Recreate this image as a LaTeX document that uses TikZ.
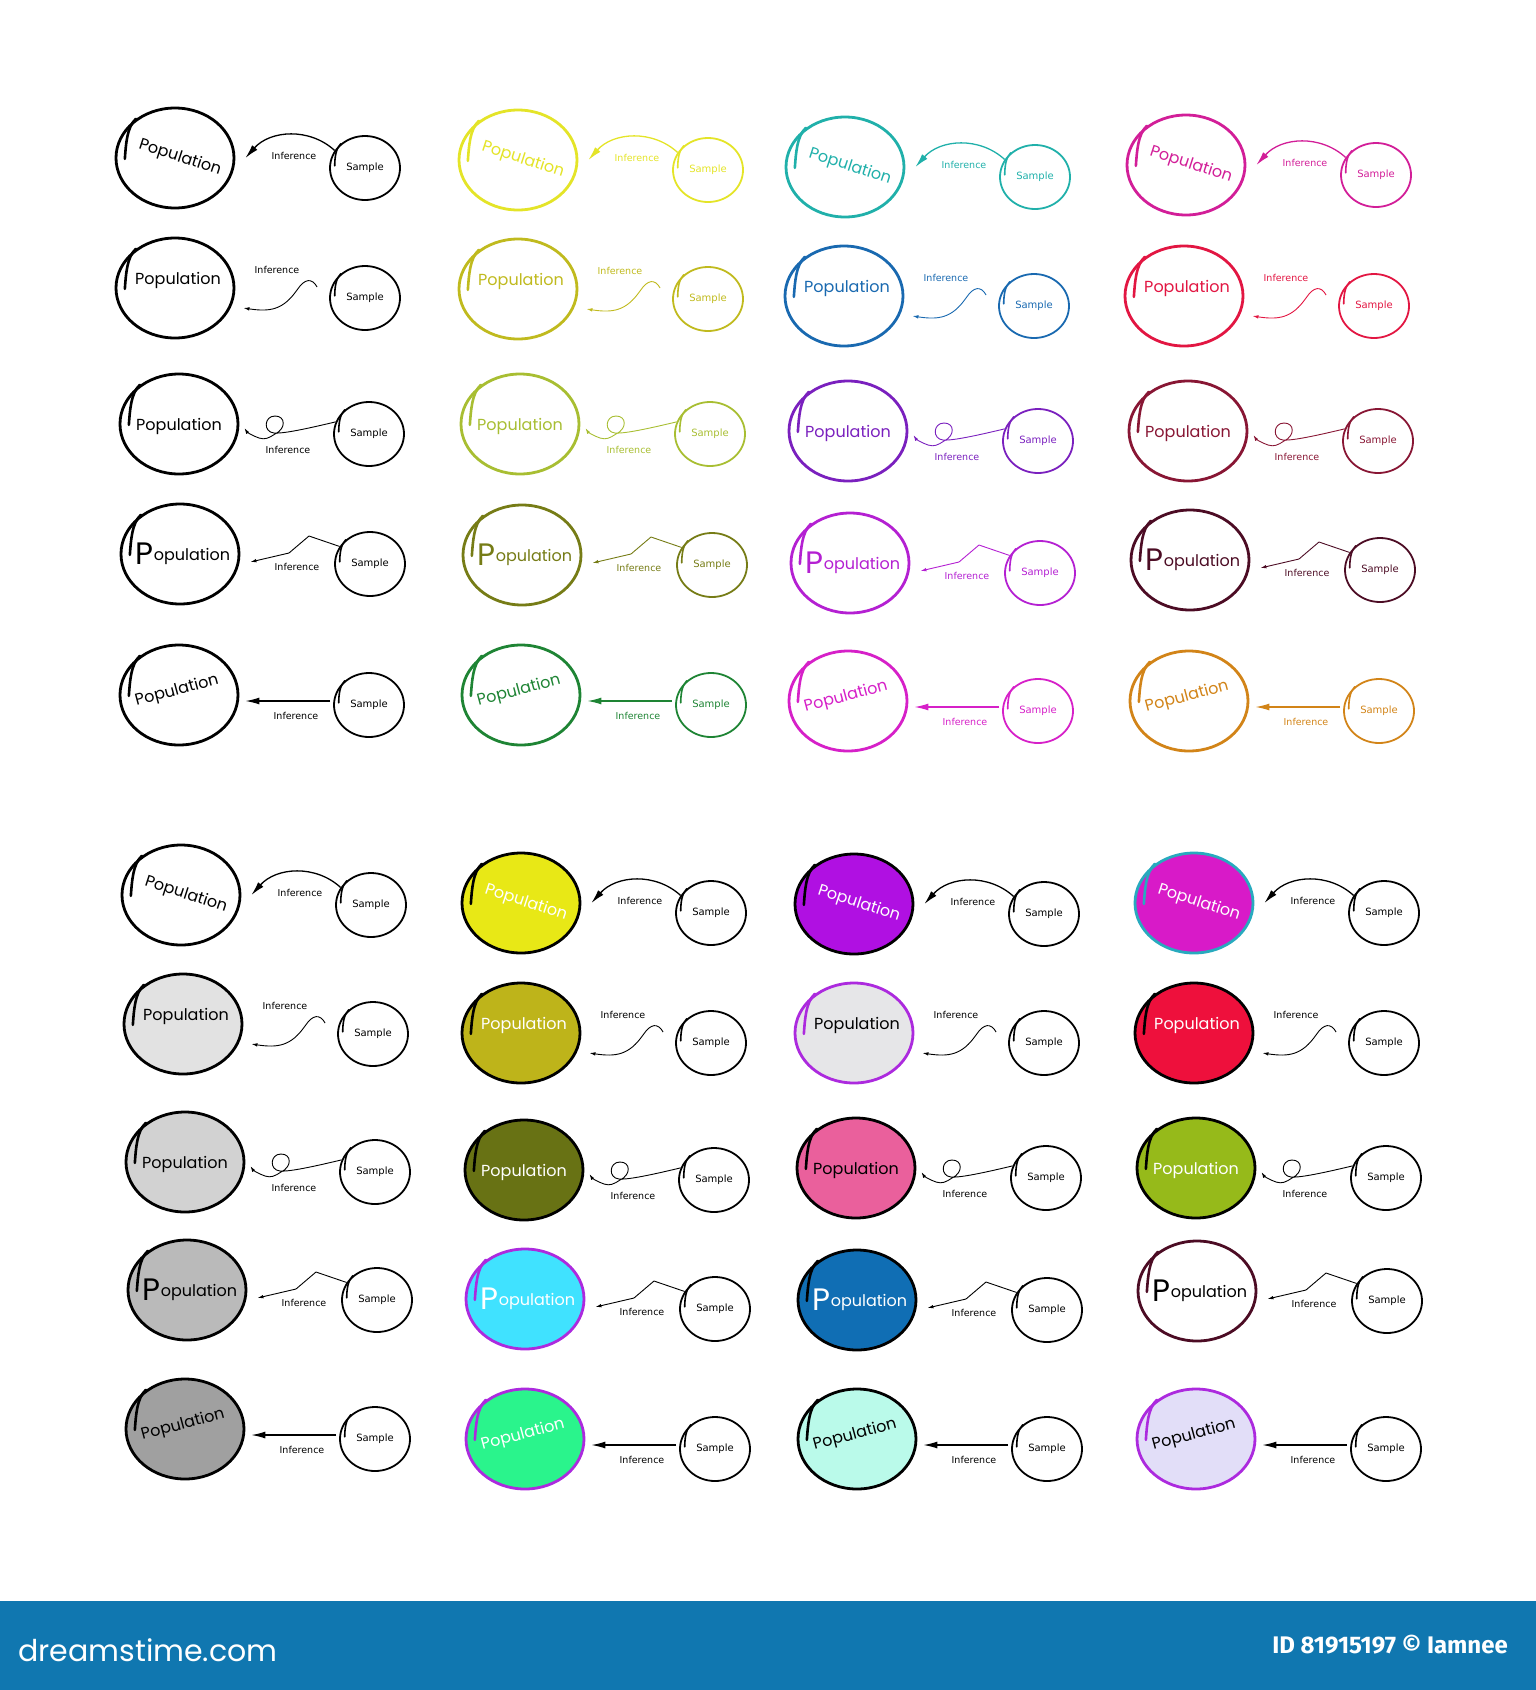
\documentclass[tikz,border=0pt]{standalone}
\usepackage{fontspec}
\setmainfont{DejaVu Sans}
\newfontfamily\popfont{Poppins}
\newfontfamily\creditfont{Fira Sans}
\usetikzlibrary{shapes.geometric,arrows.meta}

% outline colours, upper block
\definecolor{lemonA}{RGB}{228,228,40}
\definecolor{lemonB}{RGB}{192,186,30}
\definecolor{lemonC}{RGB}{168,190,50}
\definecolor{lemonD}{RGB}{118,124,22}
\definecolor{lemonE}{RGB}{30,132,52}
\definecolor{seaA}{RGB}{32,176,170}
\definecolor{seaB}{RGB}{25,105,176}
\definecolor{seaC}{RGB}{122,32,190}
\definecolor{seaD}{RGB}{180,32,210}
\definecolor{seaE}{RGB}{214,32,200}
\definecolor{wineA}{RGB}{210,30,152}
\definecolor{wineB}{RGB}{226,22,66}
\definecolor{wineC}{RGB}{136,22,52}
\definecolor{wineD}{RGB}{76,12,36}
\definecolor{wineE}{RGB}{210,132,24}
% fills, lower block
\definecolor{greyA}{RGB}{226,226,226}
\definecolor{greyB}{RGB}{210,210,210}
\definecolor{greyC}{RGB}{186,186,186}
\definecolor{greyD}{RGB}{160,160,160}
\definecolor{fillYellow}{RGB}{232,232,22}
\definecolor{fillOlive}{RGB}{190,180,26}
\definecolor{fillMoss}{RGB}{104,114,20}
\definecolor{fillCyan}{RGB}{64,226,255}
\definecolor{fillMint}{RGB}{42,244,140}
\definecolor{fillViolet}{RGB}{176,16,226}
\definecolor{fillPale}{RGB}{230,230,232}
\definecolor{fillPink}{RGB}{234,96,156}
\definecolor{fillBlue}{RGB}{16,110,180}
\definecolor{fillAqua}{RGB}{186,250,234}
\definecolor{fillMagenta}{RGB}{216,26,200}
\definecolor{fillRed}{RGB}{238,16,60}
\definecolor{fillLime}{RGB}{150,186,26}
\definecolor{fillLavender}{RGB}{226,222,248}
\definecolor{ringPurple}{RGB}{172,42,222}
\definecolor{ringTeal}{RGB}{40,170,190}
\definecolor{bannerblue}{RGB}{16,119,176}

\newcommand{\bigP}{\raisebox{-4pt}{\fontsize{31}{31}\selectfont P}opulation}

% one population / sample pair
% #1 name, #2 x, #3 y, #4 kind of arrow, #5 ring, #6 fill, #7 word, #8 sample side
\newcommand{\samplepair}[8]{%
  \begin{scope}[shift={(#2,#3)}]
    \node[popring, draw=#5, fill=#6] (p#1) at (0,0) {};
    \draw[sketchpop, #5] (p#1.135) .. controls +(-9,8) and +(1,-14) .. ++(-11,40);
    \node[samplering, draw=#8, text=#8] (s#1) at (190,10) {Sample};
    \draw[sketchsample, #8] (s#1.135) .. controls +(-5,5) and +(0,-8) .. ++(-6,22);
    \ifcase#4\or
      % arc
      \node[poptext, text=#7, rotate=-18] (t#1) at (5,0) {Population};
      \draw[arcline, bigtip, #8] (s#1.150) .. controls +(-25,-23) and +(25,-28) .. ([shift={(10,0)}]p#1.east);
      \node[inflabel, text=#8] (i#1) at (119,-2) {Inference};
    \or
      % wave
      \node[poptext, text=#7] (t#1) at (3,-8) {Population};
      \draw[thinline, smalltip, #8] ([shift={(-12,-11)}]s#1.west) .. controls +(-5,-9) and +(8,-12) .. (122,2)
        .. controls (108,22) and (95,24) .. ([shift={(8,20)}]p#1.east);
      \node[inflabel, text=#8] (i#1) at (102,-18) {Inference};
    \or
      % loop
      \node[poptext, text=#7] (t#1) at (0,2) {Population};
      \draw[thinline, smalltip, #8] (s#1.160) .. controls (135,3) and (105,10) .. (95,9)
        .. controls (84,8) and (85,-8) .. (96,-8) .. controls (107,-8) and (107,5) .. (96,10)
        .. controls (90,14) and (86,16) .. (80,14) .. controls (74,12) and (68,8) .. ([shift={(5,4)}]p#1.east);
      \node[inflabel, text=#8] (i#1) at (109,26) {Inference};
    \or
      % zigzag
      \node[poptext, text=#7] (t#1) at (3,0) {\bigP};
      \draw[thinline, smalltip, #8] (s#1.150) -- (129,-18) -- (109,-1) -- ([shift={(10,8)}]p#1.east);
      \node[inflabel, text=#8] (i#1) at (117,13) {Inference};
    \or
      % straight
      \node[poptext, text=#7, rotate=15] (t#1) at (-2,-4) {Population};
      \draw[arcline, bigtip, #8] ([shift={(-3,-4)}]s#1.west) -- ([shift={(6,6)}]p#1.east);
      \node[inflabel, text=#8] (i#1) at (117,21) {Inference};
    \fi
  \end{scope}%
}

\begin{document}
\begin{tikzpicture}[x=1pt, y=-1pt,
    popring/.style={ellipse, minimum width=118pt, minimum height=100pt, inner sep=0pt, line width=2.8pt},
    samplering/.style={ellipse, minimum width=70pt, minimum height=64pt, inner sep=0pt, line width=1.8pt,
      font=\fontsize{10}{11}\selectfont},
    sketchpop/.style={line width=2.6pt, line cap=round},
    sketchsample/.style={line width=1.6pt, line cap=round},
    poptext/.style={inner sep=0pt, font=\popfont\fontsize{16}{18}\selectfont},
    inflabel/.style={inner sep=0pt, font=\fontsize{9.5}{10}\selectfont},
    thinline/.style={line width=0.9pt},
    arcline/.style={line width=1.3pt},
    bigtip/.style={-{Latex[length=14pt,width=7pt]}},
    smalltip/.style={-{Latex[length=6pt,width=3.5pt]}}
  ]
  \useasboundingbox (0,0) rectangle (1536,1690);

  % upper block, outlines only
  \samplepair{a1}{175}{158}{1}{black}{white}{black}{black}
  \samplepair{a2}{175}{288}{2}{black}{white}{black}{black}
  \samplepair{a3}{179}{424}{3}{black}{white}{black}{black}
  \samplepair{a4}{180}{554}{4}{black}{white}{black}{black}
  \samplepair{a5}{179}{695}{5}{black}{white}{black}{black}

  \samplepair{b1}{518}{160}{1}{lemonA}{white}{lemonA}{lemonA}
  \samplepair{b2}{518}{289}{2}{lemonB}{white}{lemonB}{lemonB}
  \samplepair{b3}{520}{424}{3}{lemonC}{white}{lemonC}{lemonC}
  \samplepair{b4}{522}{555}{4}{lemonD}{white}{lemonD}{lemonD}
  \samplepair{b5}{521}{695}{5}{lemonE}{white}{lemonE}{lemonE}

  \samplepair{c1}{845}{167}{1}{seaA}{white}{seaA}{seaA}
  \samplepair{c2}{844}{296}{2}{seaB}{white}{seaB}{seaB}
  \samplepair{c3}{848}{431}{3}{seaC}{white}{seaC}{seaC}
  \samplepair{c4}{850}{563}{4}{seaD}{white}{seaD}{seaD}
  \samplepair{c5}{848}{701}{5}{seaE}{white}{seaE}{seaE}

  \samplepair{d1}{1186}{165}{1}{wineA}{white}{wineA}{wineA}
  \samplepair{d2}{1184}{296}{2}{wineB}{white}{wineB}{wineB}
  \samplepair{d3}{1188}{431}{3}{wineC}{white}{wineC}{wineC}
  \samplepair{d4}{1190}{560}{4}{wineD}{white}{wineD}{wineD}
  \samplepair{d5}{1189}{701}{5}{wineE}{white}{wineE}{wineE}

  % lower block, filled
  \samplepair{e1}{181}{895}{1}{black}{white}{black}{black}
  \samplepair{e2}{183}{1024}{2}{black}{greyA}{black}{black}
  \samplepair{e3}{185}{1162}{3}{black}{greyB}{black}{black}
  \samplepair{e4}{187}{1290}{4}{black}{greyC}{black}{black}
  \samplepair{e5}{185}{1429}{5}{black}{greyD}{black}{black}

  \samplepair{f1}{521}{903}{1}{black}{fillYellow}{white}{black}
  \samplepair{f2}{521}{1033}{2}{black}{fillOlive}{white}{black}
  \samplepair{f3}{524}{1170}{3}{black}{fillMoss}{white}{black}
  \samplepair{f4}{525}{1299}{4}{ringPurple}{fillCyan}{white}{black}
  \samplepair{f5}{525}{1439}{5}{ringPurple}{fillMint}{white}{black}

  \samplepair{g1}{854}{904}{1}{black}{fillViolet}{white}{black}
  \samplepair{g2}{854}{1033}{2}{ringPurple}{fillPale}{black}{black}
  \samplepair{g3}{856}{1168}{3}{black}{fillPink}{black}{black}
  \samplepair{g4}{857}{1300}{4}{black}{fillBlue}{white}{black}
  \samplepair{g5}{857}{1439}{5}{black}{fillAqua}{black}{black}

  \samplepair{h1}{1194}{903}{1}{ringTeal}{fillMagenta}{white}{black}
  \samplepair{h2}{1194}{1033}{2}{black}{fillRed}{white}{black}
  \samplepair{h3}{1196}{1168}{3}{black}{fillLime}{white}{black}
  \samplepair{h4}{1197}{1291}{4}{wineD}{white}{black}{black}
  \samplepair{h5}{1196}{1439}{5}{ringPurple}{fillLavender}{black}{black}

  % banner
  \fill[bannerblue] (0,1601) rectangle (1536,1690);
  \node[anchor=west, text=white, inner sep=0pt, font=\popfont\fontsize{30}{32}\selectfont] (logo) at (18,1650) {dreamstime.com};
  \node[anchor=east, text=white, inner sep=0pt, font=\creditfont\bfseries\fontsize{24}{26}\selectfont] (credit) at (1508,1645) {ID 81915197 © Iamnee};
\end{tikzpicture}
\end{document}
